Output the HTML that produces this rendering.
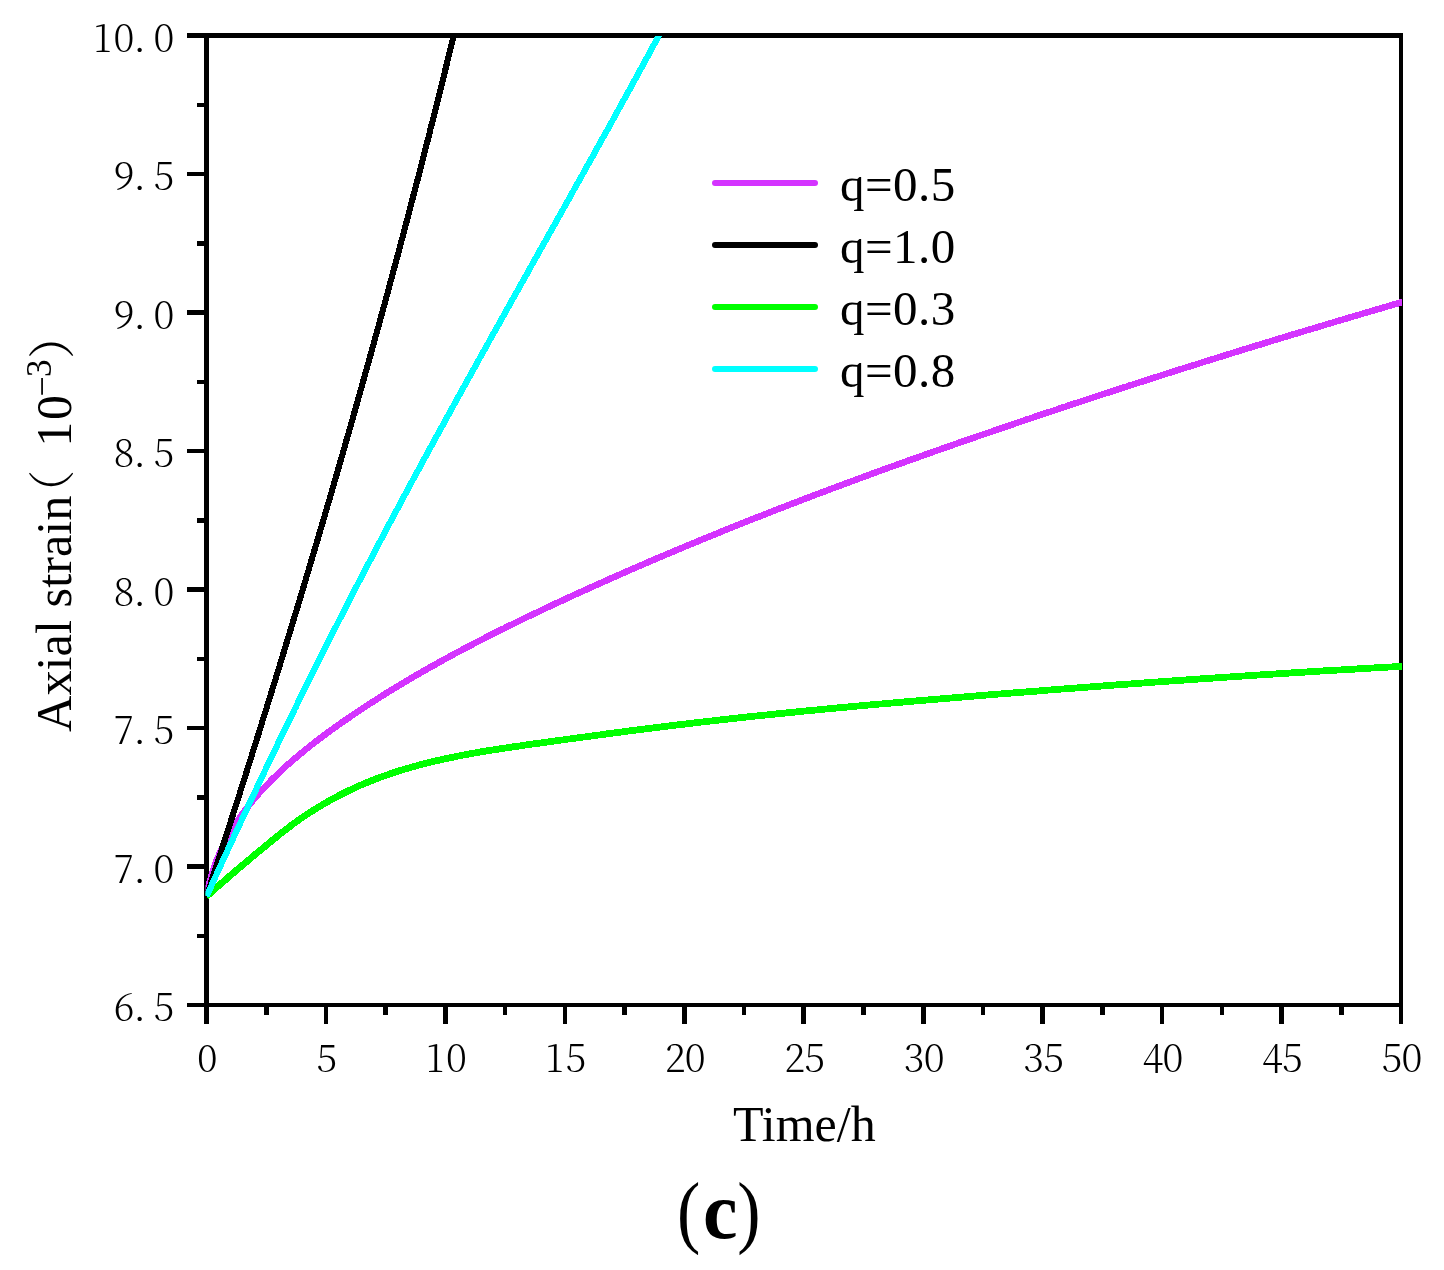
<!DOCTYPE html>
<html lang="en"><head><meta charset="utf-8"><title>Axial strain vs time (c)</title>
<style>
html,body{margin:0;padding:0;background:#fff;}
body{width:1444px;height:1270px;overflow:hidden;}
svg{display:block;}
.tick{font-family:"Noto Serif CJK SC","Liberation Serif",serif;font-weight:300;font-size:38px;fill:#000;}
.lab{font-family:"Liberation Serif","Noto Serif CJK SC",serif;font-size:50px;fill:#000;}
.leg{font-family:"Liberation Serif","Noto Serif CJK SC",serif;font-size:49px;letter-spacing:0.45px;fill:#000;}
.fw{font-family:"Noto Serif CJK SC","Liberation Serif",serif;font-weight:300;}
.cap{font-family:"Liberation Serif","Noto Serif CJK SC",serif;fill:#000;}
</style></head><body>
<svg width="1444" height="1270" viewBox="0 0 1444 1270">
<rect x="0" y="0" width="1444" height="1270" fill="#fff"/>
<g fill="#000" shape-rendering="crispEdges">
<rect x="204" y="33" width="5" height="991"/>
<rect x="1399" y="33" width="4" height="991"/>
<rect x="187" y="33" width="1216" height="5"/>
<rect x="187" y="1003" width="1216" height="4"/>
<rect x="197" y="934" width="8" height="4"/>
<rect x="187" y="864" width="18" height="5"/>
<rect x="197" y="795" width="8" height="5"/>
<rect x="187" y="726" width="18" height="4"/>
<rect x="197" y="657" width="8" height="4"/>
<rect x="187" y="587" width="18" height="5"/>
<rect x="197" y="518" width="8" height="5"/>
<rect x="187" y="449" width="18" height="4"/>
<rect x="197" y="380" width="8" height="4"/>
<rect x="187" y="310" width="18" height="5"/>
<rect x="197" y="241" width="8" height="5"/>
<rect x="187" y="172" width="18" height="4"/>
<rect x="197" y="103" width="8" height="4"/>
<rect x="264" y="1005" width="5" height="10"/>
<rect x="324" y="1005" width="4" height="19"/>
<rect x="383" y="1005" width="5" height="10"/>
<rect x="443" y="1005" width="5" height="19"/>
<rect x="503" y="1005" width="4" height="10"/>
<rect x="563" y="1005" width="4" height="19"/>
<rect x="622" y="1005" width="5" height="10"/>
<rect x="682" y="1005" width="5" height="19"/>
<rect x="742" y="1005" width="4" height="10"/>
<rect x="801" y="1005" width="5" height="19"/>
<rect x="861" y="1005" width="5" height="10"/>
<rect x="921" y="1005" width="5" height="19"/>
<rect x="981" y="1005" width="4" height="10"/>
<rect x="1040" y="1005" width="5" height="19"/>
<rect x="1100" y="1005" width="5" height="10"/>
<rect x="1160" y="1005" width="4" height="19"/>
<rect x="1220" y="1005" width="4" height="10"/>
<rect x="1279" y="1005" width="5" height="19"/>
<rect x="1339" y="1005" width="5" height="10"/>
</g>
<defs><clipPath id="clip"><rect x="205.5" y="36" width="1196.5" height="969"/></clipPath></defs>
<g clip-path="url(#clip)" fill="none" stroke-width="6.5" stroke-linejoin="round" stroke-linecap="butt" shape-rendering="crispEdges">
<path d="M206.5 896.5 L206.8 894.9 L207.1 893.4 L207.4 891.9 L207.7 890.3 L208.0 888.8 L208.4 887.3 L208.7 885.8 L209.1 884.2 L209.5 882.7 L209.9 881.3 L210.3 879.8 L210.7 878.3 L211.1 876.8 L211.5 875.3 L212.0 873.9 L212.4 872.4 L212.9 871.0 L213.4 869.5 L213.8 868.1 L214.3 866.7 L214.9 865.3 L215.4 863.8 L215.9 862.4 L216.4 861.0 L217.0 859.6 L217.6 858.2 L218.1 856.9 L218.7 855.5 L219.3 854.1 L219.9 852.7 L220.5 851.4 L221.1 850.0 L221.8 848.7 L222.4 847.3 L223.0 846.0 L223.7 844.7 L224.4 843.3 L225.0 842.0 L225.7 840.7 L226.4 839.4 L228.5 835.6 L230.7 831.9 L232.9 828.2 L235.2 824.5 L237.6 820.9 L240.0 817.4 L242.5 813.9 L245.0 810.4 L247.7 807.0 L250.3 803.6 L253.1 800.3 L255.9 797.0 L258.7 793.7 L261.6 790.5 L264.5 787.3 L267.5 784.2 L270.6 781.0 L273.6 778.0 L276.8 774.9 L279.9 771.9 L283.1 768.9 L286.3 766.0 L289.6 763.1 L292.9 760.2 L296.2 757.4 L299.6 754.5 L303.0 751.8 L306.4 749.0 L309.8 746.3 L313.3 743.5 L316.7 740.9 L320.2 738.2 L323.8 735.5 L327.3 732.9 L330.9 730.3 L334.5 727.8 L338.0 725.2 L341.6 722.7 L345.3 720.2 L348.9 717.7 L352.5 715.2 L356.2 712.7 L359.8 710.3 L363.5 707.8 L367.2 705.4 L370.9 703.0 L374.6 700.7 L378.3 698.3 L382.0 696.0 L385.7 693.6 L389.4 691.3 L393.2 689.0 L396.9 686.7 L400.7 684.5 L404.4 682.2 L408.2 680.0 L412.0 677.7 L415.8 675.5 L419.6 673.3 L423.4 671.1 L427.2 669.0 L431.0 666.8 L434.9 664.7 L438.7 662.5 L442.5 660.4 L446.4 658.3 L450.2 656.2 L454.1 654.1 L458.0 652.0 L461.8 650.0 L465.7 647.9 L469.6 645.9 L473.5 643.9 L477.4 641.8 L481.3 639.8 L485.2 637.8 L489.1 635.8 L493.0 633.9 L496.9 631.9 L500.9 629.9 L504.8 628.0 L508.7 626.0 L512.7 624.1 L516.6 622.2 L520.5 620.3 L524.5 618.3 L528.4 616.4 L532.4 614.5 L536.4 612.7 L540.3 610.8 L544.3 608.9 L548.3 607.0 L552.2 605.2 L556.2 603.3 L560.2 601.5 L564.2 599.6 L568.1 597.8 L572.1 596.0 L576.1 594.1 L580.1 592.3 L584.1 590.5 L588.1 588.7 L592.1 586.9 L596.1 585.1 L600.1 583.3 L604.1 581.5 L608.1 579.7 L612.1 577.9 L616.1 576.2 L620.1 574.4 L624.1 572.6 L628.1 570.9 L632.1 569.1 L636.1 567.4 L640.2 565.6 L644.2 563.9 L648.2 562.2 L652.2 560.4 L656.3 558.7 L660.3 557.0 L664.3 555.3 L668.4 553.6 L672.4 551.9 L676.4 550.2 L680.5 548.5 L684.5 546.8 L688.5 545.1 L692.6 543.4 L696.6 541.8 L700.7 540.1 L704.7 538.4 L708.8 536.8 L712.8 535.1 L716.9 533.5 L721.0 531.8 L725.0 530.2 L729.1 528.5 L733.1 526.9 L737.2 525.3 L741.3 523.7 L745.3 522.0 L749.4 520.4 L753.5 518.8 L757.5 517.2 L761.6 515.6 L765.7 514.0 L769.8 512.4 L773.9 510.8 L777.9 509.2 L782.0 507.6 L786.1 506.1 L790.2 504.5 L794.3 502.9 L798.4 501.3 L802.5 499.8 L806.5 498.2 L810.6 496.7 L814.7 495.1 L818.8 493.5 L822.9 492.0 L827.0 490.5 L831.1 488.9 L835.2 487.4 L839.3 485.9 L843.4 484.3 L847.5 482.8 L851.7 481.3 L855.8 479.8 L859.9 478.2 L864.0 476.7 L868.1 475.2 L872.2 473.7 L876.3 472.2 L880.5 470.7 L884.6 469.2 L888.7 467.7 L892.8 466.2 L896.9 464.8 L901.1 463.3 L905.2 461.8 L909.3 460.3 L913.4 458.8 L917.6 457.4 L921.7 455.9 L925.8 454.4 L930.0 453.0 L934.1 451.5 L938.2 450.1 L942.4 448.6 L946.5 447.2 L950.7 445.7 L954.8 444.3 L958.9 442.8 L963.1 441.4 L967.2 439.9 L971.4 438.5 L975.5 437.1 L979.7 435.6 L983.8 434.2 L987.9 432.8 L992.1 431.4 L996.3 429.9 L1000.4 428.5 L1004.6 427.1 L1008.7 425.7 L1012.9 424.3 L1017.0 422.9 L1021.2 421.5 L1025.3 420.0 L1029.5 418.6 L1033.7 417.2 L1037.8 415.8 L1042.0 414.4 L1046.1 413.0 L1050.3 411.7 L1054.5 410.3 L1058.6 408.9 L1062.8 407.5 L1067.0 406.1 L1071.1 404.7 L1075.3 403.3 L1079.5 402.0 L1083.6 400.6 L1087.8 399.2 L1092.0 397.8 L1096.1 396.5 L1100.3 395.1 L1104.5 393.7 L1108.7 392.4 L1112.8 391.0 L1117.0 389.7 L1121.2 388.3 L1125.4 387.0 L1129.5 385.6 L1133.7 384.3 L1137.9 382.9 L1142.1 381.6 L1146.3 380.2 L1150.4 378.9 L1154.6 377.5 L1158.8 376.2 L1163.0 374.9 L1167.2 373.5 L1171.3 372.2 L1175.5 370.9 L1179.7 369.5 L1183.9 368.2 L1188.1 366.9 L1192.3 365.6 L1196.5 364.3 L1200.6 363.0 L1204.8 361.6 L1209.0 360.3 L1213.2 359.0 L1217.4 357.7 L1221.6 356.4 L1225.8 355.1 L1230.0 353.8 L1234.1 352.5 L1238.3 351.2 L1242.5 349.9 L1246.7 348.6 L1250.9 347.3 L1255.1 346.0 L1259.3 344.8 L1263.5 343.5 L1267.7 342.2 L1271.9 340.9 L1276.1 339.6 L1280.3 338.3 L1284.4 337.1 L1288.6 335.8 L1292.8 334.5 L1297.0 333.3 L1301.2 332.0 L1305.4 330.7 L1309.6 329.5 L1313.8 328.2 L1318.0 327.0 L1322.2 325.7 L1326.4 324.4 L1330.6 323.2 L1334.8 321.9 L1339.0 320.7 L1343.2 319.4 L1347.4 318.2 L1351.6 317.0 L1355.7 315.7 L1359.9 314.5 L1364.1 313.2 L1368.3 312.0 L1372.5 310.8 L1376.7 309.5 L1380.9 308.3 L1385.1 307.1 L1389.3 305.9 L1393.5 304.6 L1397.7 303.4 L1401.9 302.2 L1425.9 295.2" stroke="#d433ff" stroke-width="6.5"/>
<path d="M206.5 896.5 L207.0 895.1 L207.4 893.6 L207.9 892.2 L208.4 890.8 L208.8 889.4 L209.3 887.9 L209.8 886.5 L210.2 885.1 L210.7 883.7 L211.1 882.2 L211.6 880.8 L212.1 879.4 L212.5 878.0 L213.0 876.5 L213.5 875.1 L213.9 873.7 L214.4 872.3 L214.8 870.8 L215.3 869.4 L215.8 868.0 L216.2 866.5 L216.7 865.1 L217.2 863.7 L217.6 862.3 L218.1 860.8 L218.5 859.4 L219.0 858.0 L219.5 856.6 L219.9 855.1 L220.4 853.7 L220.8 852.3 L221.3 850.8 L221.8 849.4 L222.2 848.0 L222.7 846.6 L223.1 845.1 L223.6 843.7 L224.1 842.3 L224.5 840.9 L225.0 839.4 L225.8 836.8 L226.7 834.1 L227.5 831.4 L228.4 828.8 L229.3 826.1 L230.1 823.5 L231.0 820.8 L231.8 818.1 L232.7 815.5 L233.5 812.8 L234.4 810.2 L235.2 807.5 L236.1 804.8 L236.9 802.2 L237.8 799.5 L238.6 796.8 L239.5 794.2 L240.3 791.5 L241.1 788.9 L242.0 786.2 L242.8 783.5 L243.7 780.9 L244.5 778.2 L245.4 775.5 L246.2 772.9 L247.1 770.2 L247.9 767.5 L248.7 764.9 L249.6 762.2 L250.4 759.6 L251.3 756.9 L252.1 754.2 L252.9 751.6 L253.8 748.9 L254.6 746.2 L255.4 743.6 L256.3 740.9 L257.1 738.2 L258.0 735.6 L258.8 732.9 L259.6 730.2 L260.5 727.6 L261.3 724.9 L262.1 722.2 L262.9 719.6 L263.8 716.9 L264.6 714.2 L265.4 711.6 L266.3 708.9 L267.1 706.2 L267.9 703.5 L268.8 700.9 L269.6 698.2 L270.4 695.5 L271.2 692.9 L272.1 690.2 L272.9 687.5 L273.7 684.9 L274.5 682.2 L275.4 679.5 L276.2 676.8 L277.0 674.2 L277.8 671.5 L278.6 668.8 L279.5 666.2 L280.3 663.5 L281.1 660.8 L281.9 658.1 L282.7 655.5 L283.6 652.8 L284.4 650.1 L285.2 647.5 L286.0 644.8 L286.8 642.1 L287.6 639.4 L288.5 636.8 L289.3 634.1 L290.1 631.4 L290.9 628.7 L291.7 626.1 L292.5 623.4 L293.3 620.7 L294.1 618.1 L294.9 615.4 L295.8 612.7 L296.6 610.0 L297.4 607.4 L298.2 604.7 L299.0 602.0 L299.8 599.3 L300.6 596.7 L301.4 594.0 L302.2 591.3 L303.0 588.6 L303.8 585.9 L304.6 583.3 L305.4 580.6 L306.2 577.9 L307.0 575.2 L307.8 572.6 L308.6 569.9 L309.4 567.2 L310.2 564.5 L311.0 561.8 L311.8 559.2 L312.6 556.5 L313.4 553.8 L314.2 551.1 L315.0 548.5 L315.8 545.8 L316.6 543.1 L317.4 540.4 L318.2 537.7 L318.9 535.1 L319.7 532.4 L320.5 529.7 L321.3 527.0 L322.1 524.3 L322.9 521.7 L323.7 519.0 L324.5 516.3 L325.3 513.6 L326.0 510.9 L326.8 508.2 L327.6 505.6 L328.4 502.9 L329.2 500.2 L330.0 497.5 L330.7 494.8 L331.5 492.2 L332.3 489.5 L333.1 486.8 L333.9 484.1 L334.6 481.4 L335.4 478.7 L336.2 476.1 L337.0 473.4 L337.7 470.7 L338.5 468.0 L339.3 465.3 L340.1 462.6 L340.8 459.9 L341.6 457.3 L342.4 454.6 L343.2 451.9 L343.9 449.2 L344.7 446.5 L345.5 443.8 L346.2 441.1 L347.0 438.5 L347.8 435.8 L348.5 433.1 L349.3 430.4 L350.1 427.7 L350.8 425.0 L351.6 422.3 L352.4 419.6 L353.1 417.0 L353.9 414.3 L354.6 411.6 L355.4 408.9 L356.2 406.2 L356.9 403.5 L357.7 400.8 L358.4 398.1 L359.2 395.4 L360.0 392.8 L360.7 390.1 L361.5 387.4 L362.2 384.7 L363.0 382.0 L363.7 379.3 L364.5 376.6 L365.2 373.9 L366.0 371.2 L366.7 368.5 L367.5 365.8 L368.2 363.2 L369.0 360.5 L369.7 357.8 L370.5 355.1 L371.2 352.4 L372.0 349.7 L372.7 347.0 L373.5 344.3 L374.2 341.6 L375.0 338.9 L375.7 336.2 L376.4 333.5 L377.2 330.8 L377.9 328.1 L378.7 325.5 L379.4 322.8 L380.1 320.1 L380.9 317.4 L381.6 314.7 L382.4 312.0 L383.1 309.3 L383.8 306.6 L384.6 303.9 L385.3 301.2 L386.0 298.5 L386.8 295.8 L387.5 293.1 L388.2 290.4 L388.9 287.7 L389.7 285.0 L390.4 282.3 L391.1 279.6 L391.9 276.9 L392.6 274.2 L393.3 271.5 L394.0 268.8 L394.8 266.1 L395.5 263.4 L396.2 260.7 L396.9 258.0 L397.7 255.3 L398.4 252.6 L399.1 249.9 L399.8 247.2 L400.5 244.5 L401.2 241.8 L402.0 239.1 L402.7 236.4 L403.4 233.7 L404.1 231.0 L404.8 228.3 L405.5 225.6 L406.3 222.9 L407.0 220.2 L407.7 217.5 L408.4 214.8 L409.1 212.1 L409.8 209.4 L410.5 206.7 L411.2 204.0 L411.9 201.3 L412.6 198.6 L413.3 195.9 L414.0 193.2 L414.7 190.5 L415.5 187.8 L416.2 185.1 L416.9 182.4 L417.6 179.7 L418.3 177.0 L419.0 174.3 L419.7 171.5 L420.4 168.8 L421.1 166.1 L421.7 163.4 L422.4 160.7 L423.1 158.0 L423.8 155.3 L424.5 152.6 L425.2 149.9 L425.9 147.2 L426.6 144.5 L427.3 141.8 L428.0 139.1 L428.7 136.4 L429.4 133.7 L430.0 130.9 L430.7 128.2 L431.4 125.5 L432.1 122.8 L432.8 120.1 L433.5 117.4 L434.2 114.7 L434.8 112.0 L435.5 109.3 L436.2 106.6 L436.9 103.8 L437.6 101.1 L438.2 98.4 L438.9 95.7 L439.6 93.0 L440.3 90.3 L440.9 87.6 L441.6 84.9 L442.3 82.2 L443.0 79.4 L443.6 76.7 L444.3 74.0 L445.0 71.3 L445.6 68.6 L446.3 65.9 L447.0 63.2 L447.6 60.5 L448.3 57.7 L449.0 55.0 L449.6 52.3 L450.3 49.6 L451.0 46.9 L451.6 44.2 L452.3 41.5 L453.0 38.7 L453.6 36.0 L459.5 11.7" stroke="#000" stroke-width="6.1"/>
<path d="M206.5 896.5 L207.6 895.5 L208.8 894.5 L209.9 893.4 L211.0 892.4 L212.2 891.4 L213.3 890.4 L214.4 889.4 L215.6 888.4 L216.7 887.4 L217.8 886.4 L219.0 885.4 L220.1 884.4 L221.2 883.4 L222.4 882.4 L223.5 881.4 L224.6 880.5 L225.8 879.5 L226.9 878.5 L228.0 877.5 L229.2 876.5 L230.3 875.6 L231.4 874.6 L232.6 873.6 L233.7 872.7 L234.8 871.7 L235.9 870.7 L237.1 869.8 L238.2 868.8 L239.3 867.8 L240.5 866.9 L241.6 865.9 L242.7 865.0 L243.9 864.0 L245.0 863.0 L246.1 862.1 L247.3 861.1 L248.4 860.2 L249.6 859.2 L250.7 858.3 L251.8 857.3 L254.8 854.8 L257.8 852.3 L260.9 849.8 L263.9 847.3 L266.9 844.8 L270.0 842.3 L273.0 839.8 L276.1 837.3 L279.2 834.8 L282.3 832.3 L285.4 829.9 L288.6 827.5 L291.7 825.1 L294.9 822.7 L298.2 820.4 L301.4 818.1 L304.7 815.9 L308.0 813.7 L311.4 811.5 L314.7 809.4 L318.1 807.3 L321.5 805.3 L325.0 803.2 L328.4 801.3 L331.9 799.3 L335.4 797.5 L338.9 795.6 L342.4 793.8 L346.0 792.0 L349.5 790.3 L353.1 788.6 L356.7 787.0 L360.3 785.3 L364.0 783.8 L367.6 782.3 L371.3 780.8 L374.9 779.3 L378.6 777.9 L382.3 776.6 L386.0 775.3 L389.7 774.0 L393.4 772.7 L397.2 771.5 L400.9 770.3 L404.6 769.2 L408.4 768.1 L412.2 767.0 L416.0 765.9 L419.7 764.9 L423.5 763.9 L427.3 762.9 L431.2 762.0 L435.0 761.1 L438.8 760.2 L442.6 759.3 L446.5 758.5 L450.3 757.7 L454.2 756.9 L458.1 756.1 L461.9 755.3 L465.8 754.6 L469.7 753.9 L473.6 753.2 L477.4 752.5 L481.3 751.8 L485.2 751.2 L489.1 750.5 L493.0 749.9 L497.0 749.3 L500.9 748.7 L504.8 748.1 L508.7 747.5 L512.6 746.9 L516.5 746.4 L520.5 745.8 L524.4 745.2 L528.3 744.7 L532.2 744.1 L536.1 743.6 L540.1 743.0 L544.0 742.5 L547.9 741.9 L551.9 741.4 L555.8 740.8 L559.7 740.3 L563.6 739.8 L567.6 739.2 L571.5 738.7 L575.4 738.2 L579.3 737.6 L583.3 737.1 L587.2 736.6 L591.1 736.0 L595.0 735.5 L599.0 735.0 L602.9 734.5 L606.8 733.9 L610.7 733.4 L614.7 732.9 L618.6 732.4 L622.5 731.9 L626.5 731.3 L630.4 730.8 L634.3 730.3 L638.2 729.8 L642.2 729.3 L646.1 728.8 L650.0 728.3 L653.9 727.8 L657.9 727.3 L661.8 726.8 L665.7 726.4 L669.7 725.9 L673.6 725.4 L677.5 724.9 L681.4 724.4 L685.4 724.0 L689.3 723.5 L693.2 723.0 L697.1 722.6 L701.1 722.1 L705.0 721.7 L708.9 721.2 L712.9 720.8 L716.8 720.3 L720.7 719.9 L724.6 719.4 L728.6 719.0 L732.5 718.6 L736.4 718.1 L740.4 717.7 L744.3 717.3 L748.2 716.8 L752.1 716.4 L756.1 716.0 L760.0 715.6 L763.9 715.2 L767.9 714.8 L771.8 714.4 L775.7 714.0 L779.6 713.6 L783.6 713.2 L787.5 712.8 L791.4 712.4 L795.4 712.0 L799.3 711.6 L803.2 711.2 L807.2 710.8 L811.1 710.4 L815.0 710.1 L818.9 709.7 L822.9 709.3 L826.8 708.9 L830.7 708.6 L834.7 708.2 L838.6 707.8 L842.5 707.5 L846.5 707.1 L850.4 706.7 L854.3 706.4 L858.3 706.0 L862.2 705.7 L866.1 705.3 L870.0 704.9 L874.0 704.6 L877.9 704.2 L881.8 703.9 L885.8 703.6 L889.7 703.2 L893.6 702.9 L897.6 702.5 L901.5 702.2 L905.4 701.8 L909.4 701.5 L913.3 701.2 L917.2 700.8 L921.2 700.5 L925.1 700.2 L929.0 699.8 L933.0 699.5 L936.9 699.2 L940.8 698.8 L944.8 698.5 L948.7 698.2 L952.6 697.9 L956.6 697.5 L960.5 697.2 L964.4 696.9 L968.4 696.6 L972.3 696.2 L976.2 695.9 L980.2 695.6 L984.1 695.3 L988.0 694.9 L992.0 694.6 L995.9 694.3 L999.8 694.0 L1003.8 693.7 L1007.7 693.4 L1011.7 693.0 L1015.6 692.7 L1019.5 692.4 L1023.5 692.1 L1027.4 691.8 L1031.3 691.5 L1035.3 691.2 L1039.2 690.9 L1043.1 690.5 L1047.1 690.2 L1051.0 689.9 L1055.0 689.6 L1058.9 689.3 L1062.8 689.0 L1066.8 688.7 L1070.7 688.4 L1074.6 688.1 L1078.6 687.8 L1082.5 687.5 L1086.5 687.2 L1090.4 686.9 L1094.3 686.6 L1098.3 686.3 L1102.2 686.0 L1106.2 685.7 L1110.1 685.4 L1114.0 685.1 L1118.0 684.8 L1121.9 684.5 L1125.9 684.3 L1129.8 684.0 L1133.7 683.7 L1137.7 683.4 L1141.6 683.1 L1145.6 682.8 L1149.5 682.5 L1153.4 682.2 L1157.4 682.0 L1161.3 681.7 L1165.3 681.4 L1169.2 681.1 L1173.1 680.8 L1177.1 680.6 L1181.0 680.3 L1185.0 680.0 L1188.9 679.7 L1192.9 679.5 L1196.8 679.2 L1200.7 678.9 L1204.7 678.6 L1208.6 678.4 L1212.6 678.1 L1216.5 677.8 L1220.5 677.6 L1224.4 677.3 L1228.4 677.0 L1232.3 676.8 L1236.2 676.5 L1240.2 676.2 L1244.1 676.0 L1248.1 675.7 L1252.0 675.4 L1256.0 675.2 L1259.9 674.9 L1263.9 674.7 L1267.8 674.4 L1271.8 674.2 L1275.7 673.9 L1279.6 673.7 L1283.6 673.4 L1287.5 673.2 L1291.5 672.9 L1295.4 672.7 L1299.4 672.4 L1303.3 672.2 L1307.3 671.9 L1311.2 671.7 L1315.2 671.4 L1319.1 671.2 L1323.1 670.9 L1327.0 670.7 L1331.0 670.5 L1334.9 670.2 L1338.9 670.0 L1342.8 669.8 L1346.8 669.5 L1350.7 669.3 L1354.7 669.1 L1358.6 668.8 L1362.6 668.6 L1366.5 668.4 L1370.5 668.1 L1374.4 667.9 L1378.4 667.7 L1382.3 667.5 L1386.3 667.2 L1390.2 667.0 L1394.2 666.8 L1398.1 666.6 L1402.1 666.4 L1427.1 665.0" stroke="#00ff00" stroke-width="6.8"/>
<path d="M206.5 896.5 L207.1 895.1 L207.7 893.8 L208.4 892.4 L209.0 891.0 L209.6 889.6 L210.2 888.3 L210.9 886.9 L211.5 885.5 L212.1 884.1 L212.7 882.8 L213.3 881.4 L214.0 880.0 L214.6 878.7 L215.2 877.3 L215.8 875.9 L216.5 874.6 L217.1 873.2 L217.7 871.8 L218.3 870.4 L219.0 869.1 L219.6 867.7 L220.2 866.3 L220.9 865.0 L221.5 863.6 L222.1 862.2 L222.7 860.9 L223.4 859.5 L224.0 858.1 L224.6 856.8 L225.3 855.4 L225.9 854.0 L226.5 852.7 L227.1 851.3 L227.8 849.9 L228.4 848.6 L229.0 847.2 L229.7 845.8 L230.3 844.5 L230.9 843.1 L231.6 841.8 L232.8 839.0 L234.1 836.2 L235.4 833.4 L236.7 830.7 L238.0 827.9 L239.3 825.1 L240.6 822.4 L241.9 819.6 L243.2 816.8 L244.5 814.0 L245.8 811.3 L247.0 808.5 L248.3 805.8 L249.6 803.0 L250.9 800.2 L252.3 797.5 L253.6 794.7 L254.9 792.0 L256.2 789.2 L257.5 786.4 L258.8 783.7 L260.1 780.9 L261.4 778.2 L262.7 775.4 L264.0 772.7 L265.3 769.9 L266.6 767.2 L268.0 764.4 L269.3 761.7 L270.6 758.9 L271.9 756.2 L273.2 753.4 L274.6 750.7 L275.9 747.9 L277.2 745.2 L278.5 742.4 L279.9 739.7 L281.2 736.9 L282.5 734.2 L283.8 731.5 L285.2 728.7 L286.5 726.0 L287.8 723.2 L289.2 720.5 L290.5 717.8 L291.8 715.0 L293.2 712.3 L294.5 709.6 L295.9 706.8 L297.2 704.1 L298.5 701.4 L299.9 698.6 L301.2 695.9 L302.6 693.2 L303.9 690.4 L305.3 687.7 L306.6 685.0 L308.0 682.3 L309.3 679.5 L310.7 676.8 L312.1 674.1 L313.4 671.4 L314.8 668.6 L316.1 665.9 L317.5 663.2 L318.8 660.5 L320.2 657.7 L321.6 655.0 L322.9 652.3 L324.3 649.6 L325.7 646.9 L327.0 644.1 L328.4 641.4 L329.8 638.7 L331.2 636.0 L332.5 633.3 L333.9 630.6 L335.3 627.8 L336.7 625.1 L338.1 622.4 L339.4 619.7 L340.8 617.0 L342.2 614.3 L343.6 611.6 L345.0 608.9 L346.4 606.2 L347.8 603.4 L349.1 600.7 L350.5 598.0 L351.9 595.3 L353.3 592.6 L354.7 589.9 L356.1 587.2 L357.5 584.5 L358.9 581.8 L360.3 579.1 L361.7 576.4 L363.1 573.7 L364.5 571.0 L365.9 568.3 L367.3 565.6 L368.8 562.9 L370.2 560.2 L371.6 557.5 L373.0 554.8 L374.4 552.1 L375.8 549.4 L377.2 546.7 L378.7 544.0 L380.1 541.3 L381.5 538.6 L382.9 535.9 L384.4 533.2 L385.8 530.5 L387.2 527.8 L388.6 525.1 L390.1 522.4 L391.5 519.8 L392.9 517.1 L394.4 514.4 L395.8 511.7 L397.3 509.0 L398.7 506.3 L400.1 503.6 L401.6 500.9 L403.0 498.2 L404.5 495.5 L405.9 492.9 L407.3 490.2 L408.8 487.5 L410.2 484.8 L411.7 482.1 L413.1 479.4 L414.6 476.7 L416.0 474.1 L417.5 471.4 L419.0 468.7 L420.4 466.0 L421.9 463.3 L423.3 460.6 L424.8 457.9 L426.2 455.3 L427.7 452.6 L429.2 449.9 L430.6 447.2 L432.1 444.5 L433.6 441.9 L435.0 439.2 L436.5 436.5 L438.0 433.8 L439.4 431.1 L440.9 428.5 L442.4 425.8 L443.8 423.1 L445.3 420.4 L446.8 417.8 L448.2 415.1 L449.7 412.4 L451.2 409.7 L452.7 407.0 L454.1 404.4 L455.6 401.7 L457.1 399.0 L458.6 396.3 L460.1 393.7 L461.5 391.0 L463.0 388.3 L464.5 385.6 L466.0 383.0 L467.5 380.3 L468.9 377.6 L470.4 375.0 L471.9 372.3 L473.4 369.6 L474.9 366.9 L476.4 364.3 L477.8 361.6 L479.3 358.9 L480.8 356.2 L482.3 353.6 L483.8 350.9 L485.3 348.2 L486.8 345.6 L488.3 342.9 L489.7 340.2 L491.2 337.6 L492.7 334.9 L494.2 332.2 L495.7 329.5 L497.2 326.9 L498.7 324.2 L500.2 321.5 L501.7 318.9 L503.2 316.2 L504.7 313.5 L506.2 310.9 L507.6 308.2 L509.1 305.5 L510.6 302.9 L512.1 300.2 L513.6 297.5 L515.1 294.9 L516.6 292.2 L518.1 289.5 L519.6 286.9 L521.1 284.2 L522.6 281.5 L524.1 278.9 L525.6 276.2 L527.1 273.5 L528.6 270.9 L530.1 268.2 L531.5 265.5 L533.0 262.9 L534.5 260.2 L536.0 257.5 L537.5 254.9 L539.0 252.2 L540.5 249.5 L542.0 246.9 L543.5 244.2 L545.0 241.5 L546.5 238.9 L548.0 236.2 L549.5 233.5 L551.0 230.9 L552.5 228.2 L554.0 225.5 L555.5 222.9 L556.9 220.2 L558.4 217.6 L559.9 214.9 L561.4 212.2 L562.9 209.6 L564.4 206.9 L565.9 204.2 L567.4 201.6 L568.9 198.9 L570.4 196.2 L571.9 193.6 L573.3 190.9 L574.8 188.2 L576.3 185.6 L577.8 182.9 L579.3 180.2 L580.8 177.6 L582.3 174.9 L583.8 172.2 L585.2 169.6 L586.7 166.9 L588.2 164.2 L589.7 161.6 L591.2 158.9 L592.7 156.2 L594.1 153.6 L595.6 150.9 L597.1 148.2 L598.6 145.6 L600.1 142.9 L601.5 140.2 L603.0 137.6 L604.5 134.9 L606.0 132.2 L607.5 129.6 L608.9 126.9 L610.4 124.2 L611.9 121.6 L613.4 118.9 L614.8 116.2 L616.3 113.6 L617.8 110.9 L619.2 108.2 L620.7 105.6 L622.2 102.9 L623.6 100.2 L625.1 97.6 L626.6 94.9 L628.0 92.2 L629.5 89.6 L631.0 86.9 L632.4 84.2 L633.9 81.5 L635.4 78.9 L636.8 76.2 L638.3 73.5 L639.7 70.9 L641.2 68.2 L642.6 65.5 L644.1 62.9 L645.5 60.2 L647.0 57.5 L648.5 54.8 L649.9 52.2 L651.4 49.5 L652.8 46.8 L654.2 44.1 L655.7 41.5 L657.1 38.8 L658.6 36.1 L670.5 14.1" stroke="#00ffff" stroke-width="6.2"/>
</g>
<text class="tick" x="113.5 133.5 153.5" y="1021.3">6.5</text>
<text class="tick" x="113.5 133.5 153.5" y="882.8">7.0</text>
<text class="tick" x="113.5 133.5 153.5" y="744.3">7.5</text>
<text class="tick" x="113.5 133.5 153.5" y="605.8">8.0</text>
<text class="tick" x="113.5 133.5 153.5" y="467.3">8.5</text>
<text class="tick" x="113.5 133.5 153.5" y="328.8">9.0</text>
<text class="tick" x="113.5 133.5 153.5" y="190.3">9.5</text>
<text class="tick" x="93.5 113.5 133.5 153.5" y="51.8">10.0</text>
<text class="tick" x="197.0" y="1072.3">0</text>
<text class="tick" x="316.4" y="1072.3">5</text>
<text class="tick" x="425.9 445.9" y="1072.3">10</text>
<text class="tick" x="545.4 565.4" y="1072.3">15</text>
<text class="tick" x="664.8 684.8" y="1072.3">20</text>
<text class="tick" x="784.2 804.2" y="1072.3">25</text>
<text class="tick" x="903.7 923.7" y="1072.3">30</text>
<text class="tick" x="1023.2 1043.2" y="1072.3">35</text>
<text class="tick" x="1142.6 1162.6" y="1072.3">40</text>
<text class="tick" x="1262.0 1282.0" y="1072.3">45</text>
<text class="tick" x="1381.5 1401.5" y="1072.3">50</text>
<line x1="715" y1="183" x2="815" y2="183" stroke="#d433ff" stroke-width="6" stroke-linecap="round"/>
<text class="leg" x="840" y="200.7">q=0.5</text>
<line x1="715" y1="245" x2="815" y2="245" stroke="#000" stroke-width="6" stroke-linecap="round"/>
<text class="leg" x="840" y="262.7">q=1.0</text>
<line x1="715" y1="307" x2="815" y2="307" stroke="#00ff00" stroke-width="6" stroke-linecap="round"/>
<text class="leg" x="840" y="324.7">q=0.3</text>
<line x1="715" y1="369" x2="815" y2="369" stroke="#00ffff" stroke-width="6" stroke-linecap="round"/>
<text class="leg" x="840" y="386.7">q=0.8</text>
<text class="lab" x="733" y="1141">Time/h</text>
<text class="lab" style="font-size:50.4px" transform="translate(71.4,732.0) rotate(-90)"><tspan x="0" y="0">Axial strain</tspan><tspan class="fw" font-size="47.3" x="215.0" y="-2.7">（ </tspan><tspan x="285.25" y="0" style="font-size:50px">1</tspan><tspan x="312.1" y="0" style="font-size:50px">0</tspan><tspan x="335.3" y="-17.3" style="font-size:36px">−</tspan><tspan x="354.95" y="-20.7" style="font-size:35px">3</tspan><tspan class="fw" font-size="47.3" x="373.1" y="-2.7">）</tspan></text>
<text class="cap" font-size="81.3" transform="translate(677.1,1238) scale(0.861,1)">(</text><text class="cap" font-size="81.3" font-weight="bold" transform="translate(703.1,1238.3) scale(0.956,1)">c</text><text class="cap" font-size="81.3" transform="translate(737.2,1238) scale(0.861,1)">)</text>
</svg></body></html>
